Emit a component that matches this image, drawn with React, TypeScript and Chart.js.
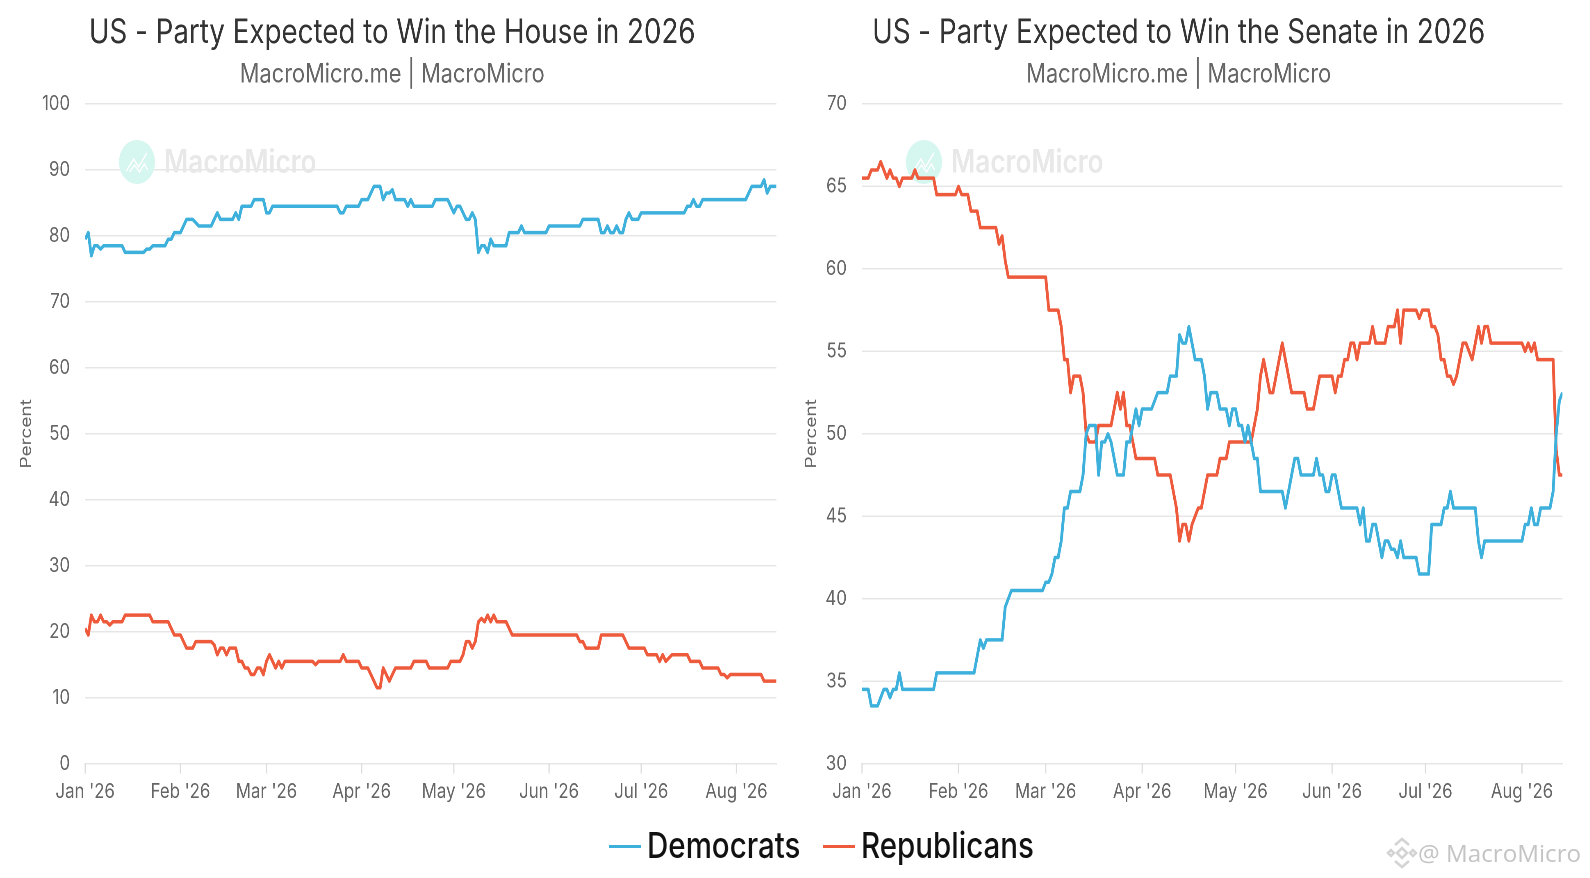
import React, { useEffect, useRef } from "react";
import { Chart, registerables } from "chart.js";

Chart.register(...registerables);

const monthStarts = [0, 31, 59, 90, 120, 151, 181, 212];
const monthLabels = ["Jan '26", "Feb '26", "Mar '26", "Apr '26", "May '26", "Jun '26", "Jul '26", "Aug '26"];
const seriesNames = ["Democrats", "Republicans"];
const seriesColors = ["#3db0dc", "#ee5a3c"];
const subtitleText = "MacroMicro.me | MacroMicro";
const yAxisLabel = "Percent";

const houseTitle = "US - Party Expected to Win the House in 2026";
const houseTicks = [0, 10, 20, 30, 40, 50, 60, 70, 80, 90, 100];
const houseDem = [
  79.5,80.5,77,78.5,78.5,78,78.5,78.5,78.5,78.5,
  78.5,78.5,78.5,77.5,77.5,77.5,77.5,77.5,77.5,77.5,
  78,78,78.5,78.5,78.5,78.5,78.5,79.5,79.5,80.5,
  80.5,80.5,81.5,82.5,82.5,82.5,82,81.5,81.5,81.5,
  81.5,81.5,82.5,83.5,82.5,82.5,82.5,82.5,82.5,83.5,
  82.5,84.5,84.5,84.5,84.5,85.5,85.5,85.5,85.5,83.5,
  83.5,84.5,84.5,84.5,84.5,84.5,84.5,84.5,84.5,84.5,
  84.5,84.5,84.5,84.5,84.5,84.5,84.5,84.5,84.5,84.5,
  84.5,84.5,84.5,83.5,83.5,84.5,84.5,84.5,84.5,84.5,
  85.5,85.5,85.5,86.5,87.5,87.5,87.5,85.5,86.5,86.5,
  87,85.5,85.5,85.5,85.5,84.5,85.5,84.5,84.5,84.5,
  84.5,84.5,84.5,84.5,85.5,85.5,85.5,85.5,85.5,84.5,
  83.5,84.5,84.5,83.5,82.5,82.5,83.5,82.5,77.5,78.5,
  78.5,77.5,79.5,78.5,78.5,78.5,78.5,78.5,80.5,80.5,
  80.5,80.5,81.5,80.5,80.5,80.5,80.5,80.5,80.5,80.5,
  80.5,81.5,81.5,81.5,81.5,81.5,81.5,81.5,81.5,81.5,
  81.5,81.5,82.5,82.5,82.5,82.5,82.5,82.5,80.5,80.5,
  81.5,80.5,80.5,81.5,80.5,80.5,82.5,83.5,82.5,82.5,
  82.5,83.5,83.5,83.5,83.5,83.5,83.5,83.5,83.5,83.5,
  83.5,83.5,83.5,83.5,83.5,83.5,84.5,84.5,85.5,84.5,
  84.5,85.5,85.5,85.5,85.5,85.5,85.5,85.5,85.5,85.5,
  85.5,85.5,85.5,85.5,85.5,85.5,86.5,87.5,87.5,87.5,
  87.5,88.5,86.5,87.5,87.5,87.5,
];
const houseRep = [
  20.5,19.5,22.5,21.5,21.5,22.5,21.5,21.5,21,21.5,
  21.5,21.5,21.5,22.5,22.5,22.5,22.5,22.5,22.5,22.5,
  22.5,22.5,21.5,21.5,21.5,21.5,21.5,21.5,20.5,19.5,
  19.5,19.5,18.5,17.5,17.5,17.5,18.5,18.5,18.5,18.5,
  18.5,18.5,18,16.5,17.5,17.5,16.5,17.5,17.5,17.5,
  15.5,15.5,14.5,14.5,13.5,13.5,14.5,14.5,13.5,15.5,
  16.5,15.5,14.5,15.5,14.5,15.5,15.5,15.5,15.5,15.5,
  15.5,15.5,15.5,15.5,15.5,15,15.5,15.5,15.5,15.5,
  15.5,15.5,15.5,15.5,16.5,15.5,15.5,15.5,15.5,15.5,
  14.5,14.5,14.5,13.5,12.5,11.5,11.5,14.5,13.5,12.5,
  13.5,14.5,14.5,14.5,14.5,14.5,14.5,15.5,15.5,15.5,
  15.5,15.5,14.5,14.5,14.5,14.5,14.5,14.5,14.5,15.5,
  15.5,15.5,15.5,16.5,18.5,18.5,17.5,18.5,21.5,22,
  21.5,22.5,21.5,22.5,21.5,21.5,21.5,21.5,20.5,19.5,
  19.5,19.5,19.5,19.5,19.5,19.5,19.5,19.5,19.5,19.5,
  19.5,19.5,19.5,19.5,19.5,19.5,19.5,19.5,19.5,19.5,
  19.5,18.5,18.5,17.5,17.5,17.5,17.5,17.5,19.5,19.5,
  19.5,19.5,19.5,19.5,19.5,19.5,18.5,17.5,17.5,17.5,
  17.5,17.5,17.5,16.5,16.5,16.5,16.5,15.5,16.5,15.5,
  16,16.5,16.5,16.5,16.5,16.5,16.5,15.5,15.5,15.5,
  15.5,14.5,14.5,14.5,14.5,14.5,14.5,13.5,13.5,13,
  13.5,13.5,13.5,13.5,13.5,13.5,13.5,13.5,13.5,13.5,
  13.5,12.5,12.5,12.5,12.5,12.5,
];

const senateTitle = "US - Party Expected to Win the Senate in 2026";
const senateTicks = [30, 35, 40, 45, 50, 55, 60, 65, 70];
const senateDem = [
  34.5,34.5,34.5,33.5,33.5,33.5,34,34.5,34.5,34,
  34.5,34.5,35.5,34.5,34.5,34.5,34.5,34.5,34.5,34.5,
  34.5,34.5,34.5,34.5,35.5,35.5,35.5,35.5,35.5,35.5,
  35.5,35.5,35.5,35.5,35.5,35.5,35.5,36.5,37.5,37,
  37.5,37.5,37.5,37.5,37.5,37.5,39.5,40,40.5,40.5,
  40.5,40.5,40.5,40.5,40.5,40.5,40.5,40.5,40.5,41,
  41,41.5,42.5,42.5,43.5,45.5,45.5,46.5,46.5,46.5,
  46.5,47.5,50,50.5,50.5,50.5,47.5,49.5,49.5,50,
  49.5,48.5,47.5,47.5,47.5,49.5,49.5,50.5,51.5,50.5,
  51.5,51.5,51.5,51.5,52,52.5,52.5,52.5,52.5,53.5,
  53.5,53.5,56,55.5,55.5,56.5,55.5,54.5,54.5,54.5,
  53.5,51.5,52.5,52.5,52.5,51.5,51.5,51.5,50.5,51.5,
  51.5,50.5,50.5,49.5,50.5,49.5,48.5,48.5,46.5,46.5,
  46.5,46.5,46.5,46.5,46.5,46.5,45.5,46.5,47.5,48.5,
  48.5,47.5,47.5,47.5,47.5,47.5,48.5,47.5,47.5,46.5,
  46.5,47.5,47.5,46.5,45.5,45.5,45.5,45.5,45.5,45.5,
  44.5,45.5,43.5,43.5,44.5,44.5,43.5,42.5,43.5,43.5,
  43,43,42.5,43.5,42.5,42.5,42.5,42.5,42.5,41.5,
  41.5,41.5,41.5,44.5,44.5,44.5,44.5,45.5,45.5,46.5,
  45.5,45.5,45.5,45.5,45.5,45.5,45.5,45.5,43.5,42.5,
  43.5,43.5,43.5,43.5,43.5,43.5,43.5,43.5,43.5,43.5,
  43.5,43.5,43.5,44.5,44.5,45.5,44.5,44.5,45.5,45.5,
  45.5,45.5,46.5,50,52,52.5,
];
const senateRep = [
  65.5,65.5,65.5,66,66,66,66.5,66,65.5,66,
  65.5,65.5,65,65.5,65.5,65.5,65.5,66,65.5,65.5,
  65.5,65.5,65.5,65.5,64.5,64.5,64.5,64.5,64.5,64.5,
  64.5,65,64.5,64.5,64.5,63.5,63.5,63.5,62.5,62.5,
  62.5,62.5,62.5,62.5,61.5,62,60.5,59.5,59.5,59.5,
  59.5,59.5,59.5,59.5,59.5,59.5,59.5,59.5,59.5,59.5,
  57.5,57.5,57.5,57.5,56.5,54.5,54.5,52.5,53.5,53.5,
  53.5,52.5,50,49.5,49.5,49.5,50.5,50.5,50.5,50.5,
  50.5,51.5,52.5,51.5,52.5,50.5,50.5,49.5,48.5,48.5,
  48.5,48.5,48.5,48.5,48.5,47.5,47.5,47.5,47.5,47.5,
  46.5,45.5,43.5,44.5,44.5,43.5,44.5,45,45.5,45.5,
  46.5,47.5,47.5,47.5,47.5,48.5,48.5,48.5,49.5,49.5,
  49.5,49.5,49.5,49.5,49.5,49.5,50.5,51.5,53.5,54.5,
  53.5,52.5,52.5,53.5,54.5,55.5,54.5,53.5,52.5,52.5,
  52.5,52.5,52.5,51.5,51.5,51.5,52.5,53.5,53.5,53.5,
  53.5,53.5,52.5,53.5,53.5,54.5,54.5,55.5,55.5,54.5,
  55.5,55.5,55.5,55.5,56.5,55.5,55.5,55.5,55.5,56.5,
  56.5,56.5,57.5,55.5,57.5,57.5,57.5,57.5,57.5,57,
  57.5,57.5,57.5,56.5,56.5,56,54.5,54.5,53.5,53.5,
  53,53.5,54.5,55.5,55.5,55,54.5,55.5,56.5,55.5,
  56.5,56.5,55.5,55.5,55.5,55.5,55.5,55.5,55.5,55.5,
  55.5,55.5,55.5,55,55.5,55,55.5,54.5,54.5,54.5,
  54.5,54.5,54.5,49,47.5,47.5,
];

const SQUEEZE = 0.82;
const FONT = "Inter, 'Noto Sans', sans-serif";

type PanelProps = {
  title: string;
  ticks: number[];
  dem: number[];
  rep: number[];
  left: number;
  width: number;
  areaLeft: number;
  areaRight: number;
  markLeft: number;
  padLeft: number;
};

function Panel({ title, ticks, dem, rep, left, width, areaLeft, areaRight, markLeft, padLeft }: PanelProps) {
  const ref = useRef<HTMLCanvasElement>(null);
  useEffect(() => {
    const pts = (v: number[]) => v.map((y, x) => ({ x, y }));
    const watermark = {
      id: "watermark",
      beforeDatasetsDraw(chart: Chart) {
        const { ctx } = chart;
        const cx = (markLeft + 19) / SQUEEZE;
        const cy = 162;
        ctx.save();
        ctx.fillStyle = "#d6f6f0";
        ctx.beginPath();
        ctx.arc(cx, cy, 22, 0, Math.PI * 2);
        ctx.fill();
        ctx.strokeStyle = "#ffffff";
        ctx.lineWidth = 1.6;
        ctx.beginPath();
        ctx.moveTo(cx - 13, cy + 9);
        ctx.lineTo(cx - 4, cy - 3);
        ctx.lineTo(cx + 2, cy + 5);
        ctx.lineTo(cx + 12, cy - 9);
        ctx.moveTo(cx - 9, cy + 10);
        ctx.lineTo(cx - 3, cy + 3);
        ctx.lineTo(cx + 3, cy + 10);
        ctx.lineTo(cx + 9, cy + 2);
        ctx.lineTo(cx + 13, cy + 8);
        ctx.stroke();
        ctx.fillStyle = "#e8e8e8";
        ctx.font = `600 32px ${FONT}`;
        ctx.textAlign = "left";
        ctx.textBaseline = "middle";
        ctx.fillText("MacroMicro", (markLeft + 46) / SQUEEZE, cy + 1);
        ctx.restore();
      },
    };
    const chart = new Chart(ref.current!, {
      type: "line",
      data: {
        datasets: [
          { label: seriesNames[0], data: pts(dem), borderColor: seriesColors[0], borderWidth: 3.5, borderJoinStyle: "round", pointRadius: 0, tension: 0 },
          { label: seriesNames[1], data: pts(rep), borderColor: seriesColors[1], borderWidth: 3.5, borderJoinStyle: "round", pointRadius: 0, tension: 0 },
        ],
      },
      options: {
        animation: false,
        responsive: false,
        devicePixelRatio: 2,
        parsing: false,
        layout: { padding: { left: padLeft / SQUEEZE, right: (width - areaRight) / SQUEEZE, top: 0, bottom: 0 } },
        plugins: {
          legend: { display: false },
          tooltip: { enabled: false },
          title: {
            display: true,
            text: title,
            color: "#333333",
            font: { family: FONT, size: 33.8, weight: "normal", lineHeight: 1.2 },
            padding: { top: 12.5, bottom: 5.7 },
          },
          subtitle: {
            display: true,
            text: subtitleText,
            color: "#666666",
            font: { family: FONT, size: 26.6, weight: "normal", lineHeight: 1.2 },
            padding: { top: 0, bottom: 13.3 },
          },
        },
        scales: {
          x: {
            type: "linear",
            min: 0,
            max: 225,
            afterBuildTicks(axis: any) {
              axis.ticks = monthStarts.map((value) => ({ value }));
            },
            afterFit(axis: any) {
              axis.height = 878 - 763.6;
            },
            grid: { display: false, drawTicks: false },
            border: { color: "#e6e6e6", width: 1.5 },
            ticks: {
              autoSkip: false,
              maxRotation: 0,
              color: "#666666",
              padding: 16,
              font: { family: FONT, size: 20.5 },
              callback: (v: any) => monthLabels[monthStarts.indexOf(Number(v))] ?? "",
            },
          },
          y: {
            type: "linear",
            min: ticks[0],
            max: ticks[ticks.length - 1],
            afterBuildTicks(axis: any) {
              axis.ticks = ticks.map((value) => ({ value }));
            },
            afterFit(axis: any) {
              axis.width = (areaLeft - padLeft) / SQUEEZE;
            },
            grid: { color: "#e6e6e6", lineWidth: 1.5, drawTicks: false },
            border: { display: false },
            title: {
              display: true,
              text: yAxisLabel,
              color: "#666666",
              font: { family: FONT, size: 19 },
              padding: { top: 21 - padLeft / SQUEEZE, bottom: 0 },
            },
            ticks: {
              color: "#666666",
              padding: 18.5,
              font: { family: FONT, size: 20.5 },
            },
          },
        },
      },
      plugins: [
        watermark,
        {
          id: "xTicks",
          afterDraw(c: Chart) {
            const { ctx, scales, chartArea } = c;
            ctx.save();
            ctx.strokeStyle = "#dddddd";
            ctx.lineWidth = 1.5;
            monthStarts.forEach((m) => {
              const x = scales.x.getPixelForValue(m);
              ctx.beginPath();
              ctx.moveTo(x, chartArea.bottom);
              ctx.lineTo(x, chartArea.bottom + 10);
              ctx.stroke();
            });
            ctx.restore();
          },
        },
      ],
    } as any);
    return () => chart.destroy();
  }, []);
  return (
    <div style={{ position: "absolute", left, top: 0, width, height: 878, overflow: "hidden" }}>
      <div style={{ width: width / SQUEEZE, height: 878, transform: `scaleX(${SQUEEZE})`, transformOrigin: "0 0" }}>
        <canvas ref={ref} width={width / SQUEEZE} height={878} />
      </div>
    </div>
  );
}

function LegendItem({ name, color, left }: { name: string; color: string; left: number }) {
  return (
    <>
      <div style={{ position: "absolute", left, top: 845, width: 32, height: 3, background: color }} />
      <div
        style={{
          position: "absolute",
          left: left + 38,
          top: 825,
          fontFamily: FONT,
          fontSize: 36,
          fontWeight: 500,
          lineHeight: "40px",
          color: "#111111",
          whiteSpace: "nowrap",
          transform: `scaleX(${SQUEEZE})`,
          transformOrigin: "0 0",
        }}
      >
        {name}
      </div>
    </>
  );
}

export default function App() {
  return (
    <div style={{ position: "absolute", left: 0, top: 0, width: 1590, height: 878, overflow: "hidden", background: "#fff" }}>
      <Panel title={houseTitle} ticks={houseTicks} dem={houseDem} rep={houseRep} left={0} width={795} areaLeft={85.2} areaRight={776.8} markLeft={118} padLeft={8} />
      <Panel title={senateTitle} ticks={senateTicks} dem={senateDem} rep={senateRep} left={785} width={798} areaLeft={77} areaRight={777.6} markLeft={120} padLeft={10} />
      <LegendItem name={seriesNames[0]} color={seriesColors[0]} left={609} />
      <LegendItem name={seriesNames[1]} color={seriesColors[1]} left={823} />
      <svg style={{ position: "absolute", left: 1386, top: 836 }} width={32} height={34} viewBox="0 0 32 34">
        <g fill="none" stroke="#d4d4d4" strokeWidth={2.5}>
          <path d="M9 9 L16 3 L23 9" />
          <path d="M9 25 L16 31 L23 25" />
          <path d="M11 17 L16 12 L21 17 L16 22 Z" />
          <path d="M2 17 L5 14 L8 17 L5 20 Z" />
          <path d="M24 17 L27 14 L30 17 L27 20 Z" />
        </g>
      </svg>
      <div
        style={{
          position: "absolute",
          left: 1418,
          top: 838,
          fontFamily: "'Open Sans', sans-serif",
          fontSize: 24.2,
          lineHeight: "30px",
          color: "#c4c4c4",
          whiteSpace: "nowrap",
        }}
      >
        @ MacroMicro
      </div>
    </div>
  );
}
